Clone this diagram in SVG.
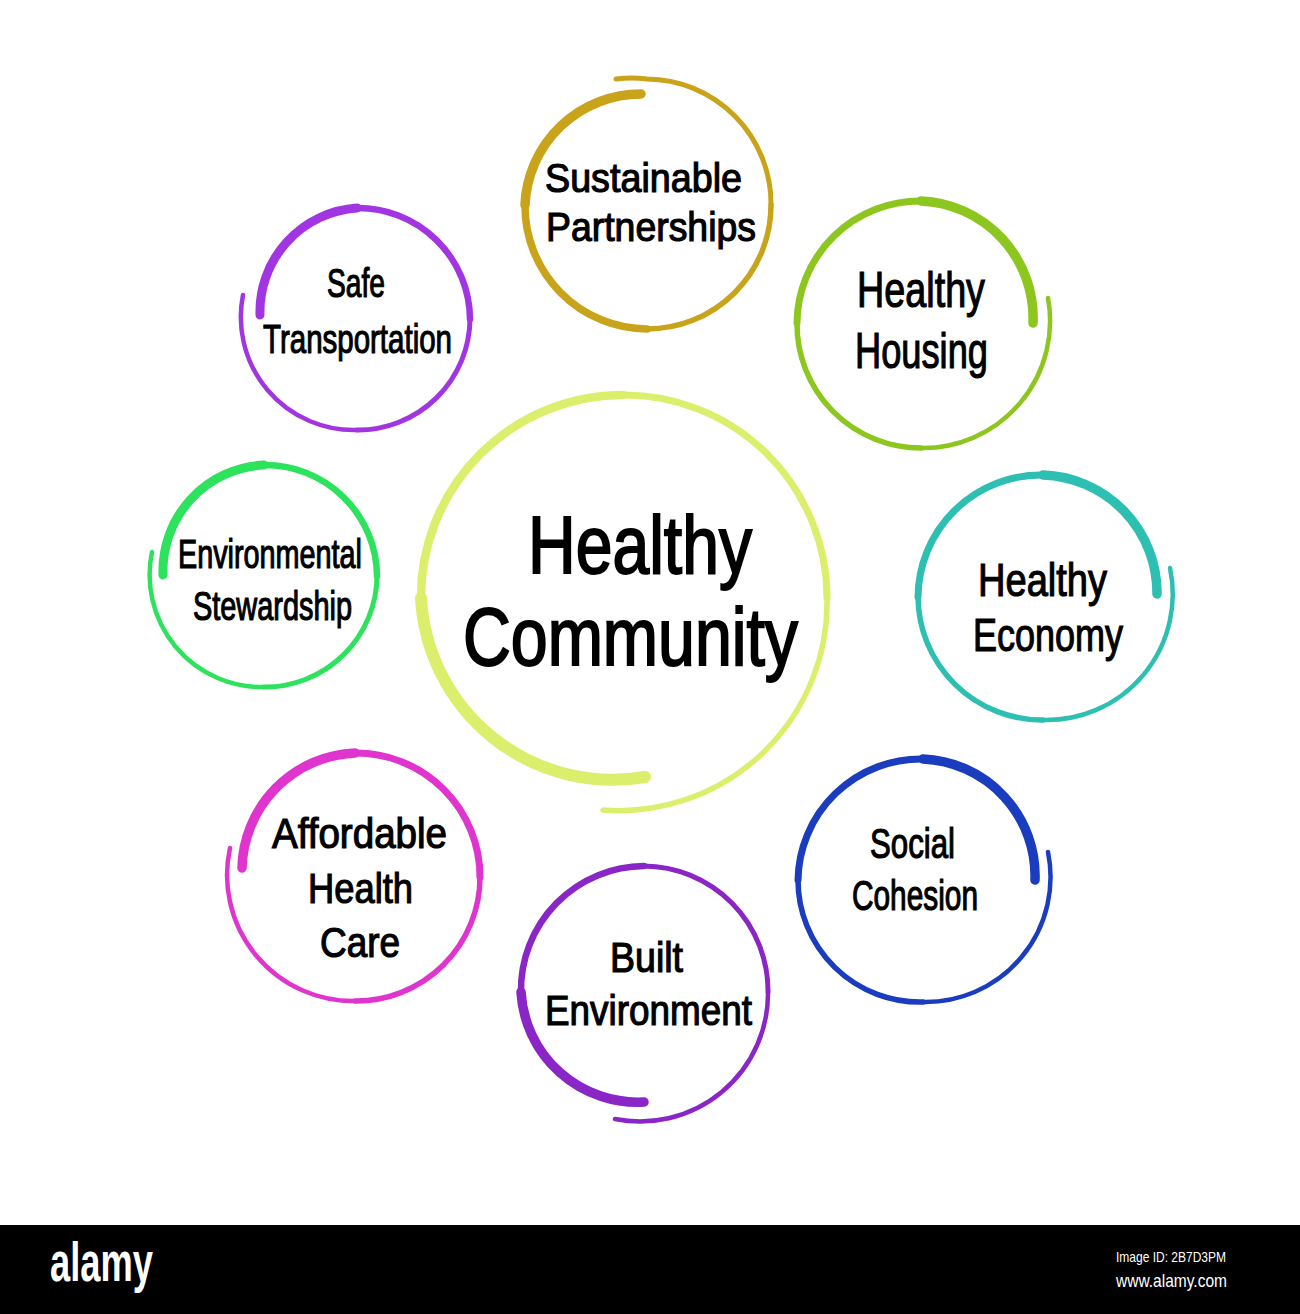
<svg xmlns="http://www.w3.org/2000/svg" width="1300" height="1314" viewBox="0 0 1300 1314">
<style>
.ring path{fill:none;stroke-linecap:round;stroke-linejoin:round}
.lbl{font-family:"Liberation Sans",Arial,sans-serif;fill:#000;stroke:#000;stroke-width:1.2;text-anchor:middle}
.big{stroke-width:2}
.wm{font-family:"Liberation Sans",Arial,sans-serif;fill:#fff}
</style>
<rect x="0" y="0" width="1300" height="1314" fill="#fff"/>
<g id="connectors"/>

<g id="node-center" class="ring" stroke="#DCEF6C">
<path d="M603 810 A208 208 0 0 0 827 598" stroke-width="5.5"/>
<path d="M827 598 A203 203 0 0 0 623 395" stroke-width="7"/>
<path d="M623 395 A202 202 0 0 0 421 598" stroke-width="8.5"/>
<path d="M421 598 A192 192 0 0 0 645 777" stroke-width="12"/>
<text class="lbl big" x="640" y="573" font-size="81" textLength="224" lengthAdjust="spacingAndGlyphs">Healthy</text>
<text class="lbl big" x="630.5" y="665" font-size="81" textLength="335" lengthAdjust="spacingAndGlyphs">Community</text>
</g>

<g id="node-sustainable" class="ring" stroke="#C9A31A">
<path d="M641 94 A116 116 0 0 0 525 205" stroke-width="9.5"/>
<path d="M525 205 A123 123 0 0 0 647 329" stroke-width="7.5"/>
<path d="M647 329 A124 124 0 0 0 771 205" stroke-width="5.5"/>
<path d="M771 205 A125 125 0 0 0 647 79 A128 128 0 0 0 616 79" stroke-width="5"/>
<text class="lbl" x="643.5" y="192" font-size="41" textLength="197" lengthAdjust="spacingAndGlyphs">Sustainable</text>
<text class="lbl" x="651" y="241" font-size="41" textLength="210" lengthAdjust="spacingAndGlyphs">Partnerships</text>
</g>

<g id="node-housing" class="ring" stroke="#8CC61E">
<path d="M1048 298 A127 127 0 0 1 921 448" stroke-width="4.5"/>
<path d="M921 448 A124 124 0 0 1 797 323" stroke-width="5.5"/>
<path d="M797 323 A123 123 0 0 1 921 201" stroke-width="7"/>
<path d="M921 201 A117 117 0 0 1 1033 323" stroke-width="9.5"/>
<text class="lbl" x="921" y="307" font-size="50" textLength="128" lengthAdjust="spacingAndGlyphs">Healthy</text>
<text class="lbl" x="921.5" y="368" font-size="50" textLength="133" lengthAdjust="spacingAndGlyphs">Housing</text>
</g>

<g id="node-economy" class="ring" stroke="#2DBFB2">
<path d="M1170 568 A126 126 0 0 1 1043 720" stroke-width="4.5"/>
<path d="M1043 720 A124 124 0 0 1 918 597" stroke-width="5.5"/>
<path d="M918 597 A123 123 0 0 1 1043 475" stroke-width="7"/>
<path d="M1043 475 A118 118 0 0 1 1157 594" stroke-width="9.5"/>
<text class="lbl" x="1042.5" y="596" font-size="47" textLength="129" lengthAdjust="spacingAndGlyphs">Healthy</text>
<text class="lbl" x="1048" y="651" font-size="47" textLength="150" lengthAdjust="spacingAndGlyphs">Economy</text>
</g>

<g id="node-social" class="ring" stroke="#1A3CBF">
<path d="M1048 852 A125 125 0 0 1 923 1002" stroke-width="4.5"/>
<path d="M923 1002 A122 122 0 0 1 798 880" stroke-width="5.5"/>
<path d="M798 880 A123 123 0 0 1 923 759" stroke-width="7"/>
<path d="M923 759 A117 117 0 0 1 1035 880" stroke-width="9.5"/>
<text class="lbl" x="912.5" y="858" font-size="42" textLength="85" lengthAdjust="spacingAndGlyphs">Social</text>
<text class="lbl" x="915" y="910" font-size="42" textLength="126" lengthAdjust="spacingAndGlyphs">Cohesion</text>
</g>

<g id="node-built" class="ring" stroke="#8A25C6">
<path d="M615 1119 A128 128 0 0 0 768 992" stroke-width="4.5"/>
<path d="M768 992 A125 125 0 0 0 644 866" stroke-width="5"/>
<path d="M644 866 A124 124 0 0 0 521 992" stroke-width="6.5"/>
<path d="M521 992 A117 117 0 0 0 644 1102" stroke-width="9.5"/>
<text class="lbl" x="646.5" y="972" font-size="42" textLength="73" lengthAdjust="spacingAndGlyphs">Built</text>
<text class="lbl" x="648.5" y="1025" font-size="42" textLength="207" lengthAdjust="spacingAndGlyphs">Environment</text>
</g>

<g id="node-affordable" class="ring" stroke="#E034CF">
<path d="M230 848 A126 126 0 0 0 355 1001" stroke-width="4.5"/>
<path d="M355 1001 A124 124 0 0 0 480 877" stroke-width="5.5"/>
<path d="M480 877 A124 124 0 0 0 355 753" stroke-width="7"/>
<path d="M355 753 A118 118 0 0 0 242 868" stroke-width="9.5"/>
<text class="lbl" x="359.5" y="848" font-size="42" textLength="175" lengthAdjust="spacingAndGlyphs">Affordable</text>
<text class="lbl" x="360.5" y="903" font-size="42" textLength="105" lengthAdjust="spacingAndGlyphs">Health</text>
<text class="lbl" x="360" y="957" font-size="42" textLength="80" lengthAdjust="spacingAndGlyphs">Care</text>
</g>

<g id="node-environmental" class="ring" stroke="#2DE25C">
<path d="M152 552 A112 112 0 0 0 264 687" stroke-width="4.5"/>
<path d="M264 687 A112 112 0 0 0 377 576" stroke-width="5"/>
<path d="M377 576 A112 112 0 0 0 264 465" stroke-width="6.5"/>
<path d="M264 465 A106 106 0 0 0 163 575" stroke-width="9"/>
<text class="lbl" x="270" y="568" font-size="41" textLength="184" lengthAdjust="spacingAndGlyphs">Environmental</text>
<text class="lbl" x="272.5" y="620" font-size="41" textLength="159" lengthAdjust="spacingAndGlyphs">Stewardship</text>
</g>

<g id="node-safe" class="ring" stroke="#A235E2">
<path d="M243 295 A113 113 0 0 0 357 430" stroke-width="4.5"/>
<path d="M357 430 A112 112 0 0 0 470 319" stroke-width="5"/>
<path d="M470 319 A112 112 0 0 0 357 208" stroke-width="6.5"/>
<path d="M357 208 A104 104 0 0 0 260 315" stroke-width="9"/>
<text class="lbl" x="356" y="297" font-size="41" textLength="58" lengthAdjust="spacingAndGlyphs">Safe</text>
<text class="lbl" x="357.5" y="353" font-size="41" textLength="189" lengthAdjust="spacingAndGlyphs">Transportation</text>
</g>

<g id="watermark">
<rect x="0" y="1225" width="1300" height="89" fill="#000"/>
<text class="wm" x="50" y="1281" font-size="56" font-weight="bold" textLength="103" lengthAdjust="spacingAndGlyphs">alamy</text>
<text class="wm" x="1116" y="1262" font-size="15" fill="#ddd" textLength="110" lengthAdjust="spacingAndGlyphs">Image ID: 2B7D3PM</text>
<text class="wm" x="1116" y="1287" font-size="19" textLength="111" lengthAdjust="spacingAndGlyphs">www.alamy.com</text>
</g>
</svg>
